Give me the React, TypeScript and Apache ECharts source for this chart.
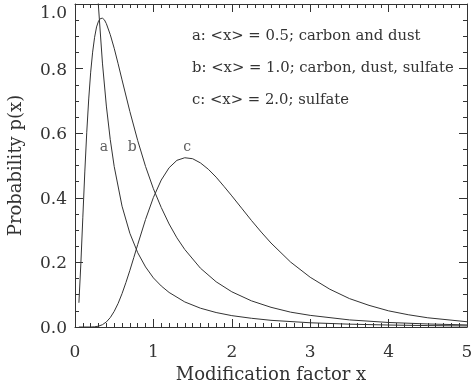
import React, { useEffect, useRef } from "react";
import * as echarts from "echarts";

// Curve a: <x> = 0.5
const xA = [0.25, 0.275, 0.3, 0.35, 0.4, 0.45, 0.5, 0.6, 0.7, 0.8, 0.9, 1.0, 1.1, 1.2, 1.4, 1.6, 1.8, 2.0, 2.25, 2.5, 3.0, 3.5, 4.0, 4.5, 5.0];
const yA = [1.219, 1.096, 0.99, 0.817, 0.684, 0.58, 0.497, 0.374, 0.29, 0.23, 0.186, 0.152, 0.127, 0.107, 0.0776, 0.0582, 0.0448, 0.0352, 0.027, 0.0207, 0.0131, 0.0088, 0.0061, 0.0044, 0.0033];

// Curve b: <x> = 1.0
const xB = [0.05, 0.075, 0.1, 0.125, 0.15, 0.175, 0.2, 0.225, 0.25, 0.275, 0.3, 0.325, 0.35, 0.375, 0.4, 0.45, 0.5, 0.55, 0.6, 0.7, 0.8, 0.9, 1.0, 1.1, 1.2, 1.3, 1.4, 1.6, 1.8, 2.0, 2.25, 2.5, 2.75, 3.0, 3.5, 4.0, 4.5, 5.0];
const yB = [0.075, 0.198, 0.34, 0.48, 0.603, 0.706, 0.789, 0.851, 0.897, 0.929, 0.947, 0.955, 0.956, 0.951, 0.939, 0.905, 0.863, 0.815, 0.765, 0.667, 0.577, 0.497, 0.428, 0.37, 0.319, 0.276, 0.24, 0.182, 0.14, 0.109, 0.081, 0.061, 0.046, 0.036, 0.022, 0.014, 0.0094, 0.0064];

// Curve c: <x> = 2.0
const xC = [0.05, 0.2, 0.25, 0.3, 0.35, 0.4, 0.45, 0.5, 0.55, 0.6, 0.65, 0.7, 0.75, 0.8, 0.9, 1.0, 1.1, 1.2, 1.3, 1.4, 1.5, 1.6, 1.7, 1.8, 1.9, 2.0, 2.125, 2.25, 2.375, 2.5, 2.75, 3.0, 3.25, 3.5, 3.75, 4.0, 4.25, 4.5, 5.0];
const yC = [0.0, 0.0, 0.0007, 0.0026, 0.0072, 0.0157, 0.0291, 0.0484, 0.073, 0.1033, 0.138, 0.1754, 0.215, 0.2553, 0.333, 0.401, 0.455, 0.493, 0.516, 0.524, 0.521, 0.508, 0.4885, 0.464, 0.4354, 0.406, 0.368, 0.33, 0.294, 0.26, 0.201, 0.154, 0.117, 0.088, 0.067, 0.05, 0.038, 0.0285, 0.0163];

// Curve letter labels
const curveLabels = ["a", "b", "c"];
const curveLabelX = [0.37, 0.73, 1.43];
const curveLabelY = [0.56, 0.56, 0.56];

// Legend texts
const legendTexts = [
  "a: <x> = 0.5; carbon and dust",
  "b: <x> = 1.0; carbon, dust, sulfate",
  "c: <x> = 2.0; sulfate",
];

// Tick labels
const xTicks = [0, 1, 2, 3, 4, 5];
const yTicks = [0.0, 0.2, 0.4, 0.6, 0.8, 1.0];

const FONT = "'DejaVu Serif', 'Liberation Serif', serif";
const INK = "#333";

function zip(xs: number[], ys: number[]) {
  return xs.map((x, i) => [x, ys[i]]);
}

export default function App() {
  const ref = useRef<HTMLDivElement>(null);
  useEffect(() => {
    document.body.style.margin = "0";
    const chart = echarts.init(ref.current!, undefined, { renderer: "svg" });
    const axisCommon = {
      type: "value",
      axisLine: { show: true, onZero: false, lineStyle: { color: INK, width: 1 } },
      axisTick: { show: true, inside: true, length: 8, lineStyle: { color: INK } },
      minorTick: { show: true, length: 4, lineStyle: { color: INK } },
      splitLine: { show: false },
    };
    const lineSeries = (name: string, data: number[][]) => ({
      name,
      type: "line",
      data,
      showSymbol: false,
      smooth: false,
      clip: true,
      lineStyle: { color: INK, width: 1 },
      itemStyle: { color: INK },
      z: 3,
    });
    chart.setOption({
      animation: false,
      grid: { left: 75, right: 7, top: 4, bottom: 59, containLabel: false, outerBoundsMode: "none" },
      xAxis: [
        {
          ...axisCommon,
          min: 0,
          max: 5,
          interval: 1,
          minorTick: { ...axisCommon.minorTick, splitNumber: 10 },
          name: "Modification factor x",
          nameLocation: "middle",
          nameGap: 37,
          nameTextStyle: { fontFamily: FONT, fontSize: 18, color: INK },
          axisLabel: {
            fontFamily: FONT,
            fontSize: 17,
            color: INK,
            margin: 15,
            formatter: (v: number) => (xTicks.includes(v) ? String(v) : ""),
          },
        },
        {
          ...axisCommon,
          position: "top",
          min: 0,
          max: 5,
          interval: 1,
          minorTick: { ...axisCommon.minorTick, splitNumber: 10 },
          axisLabel: { show: false },
        },
      ],
      yAxis: [
        {
          ...axisCommon,
          min: 0,
          max: 1,
          interval: 0.2,
          minorTick: { ...axisCommon.minorTick, splitNumber: 4 },
          name: "Probability p(x)",
          nameLocation: "middle",
          nameGap: 52,
          nameTextStyle: { fontFamily: FONT, fontSize: 18, color: INK },
          axisLabel: {
            fontFamily: FONT,
            fontSize: 17,
            color: INK,
            margin: 8,
            showMaxLabel: false,
            formatter: (v: number) => {
              const t = yTicks.find((k) => Math.abs(k - v) < 1e-6);
              return t === undefined ? "" : t.toFixed(1);
            },
          },
        },
        {
          ...axisCommon,
          position: "right",
          min: 0,
          max: 1,
          interval: 0.2,
          minorTick: { ...axisCommon.minorTick, splitNumber: 4 },
          axisLabel: { show: false },
        },
      ],
      series: [
        lineSeries("a", zip(xA, yA)),
        lineSeries("b", zip(xB, yB)),
        lineSeries("c", zip(xC, yC)),
        {
          name: "labels",
          type: "scatter",
          symbolSize: 0,
          data: curveLabels.map((n, i) => ({ name: n, value: [curveLabelX[i], curveLabelY[i]] })),
          label: {
            show: true,
            position: "inside",
            formatter: (p: any) => p.name,
            fontFamily: FONT,
            fontSize: 14,
            color: INK,
          },
          z: 4,
        },
      ],
      graphic: [
        {
          type: "text",
          x: 67,
          y: 12,
          style: {
            text: yTicks[yTicks.length - 1].toFixed(1),
            fontFamily: FONT,
            fontSize: 17,
            fill: INK,
            align: "right",
            verticalAlign: "middle",
          },
        },
        ...legendTexts.map((t, i) => ({
          type: "text",
          x: 192,
          y: 34 + i * 32,
          style: {
            text: t,
            fontFamily: FONT,
            fontSize: 14.8,
            fill: INK,
            align: "left",
            verticalAlign: "middle",
          },
        })),
      ],
    });
    return () => chart.dispose();
  }, []);
  return <div ref={ref} style={{ position: "fixed", left: 0, top: 0, width: 474, height: 386 }} />;
}
